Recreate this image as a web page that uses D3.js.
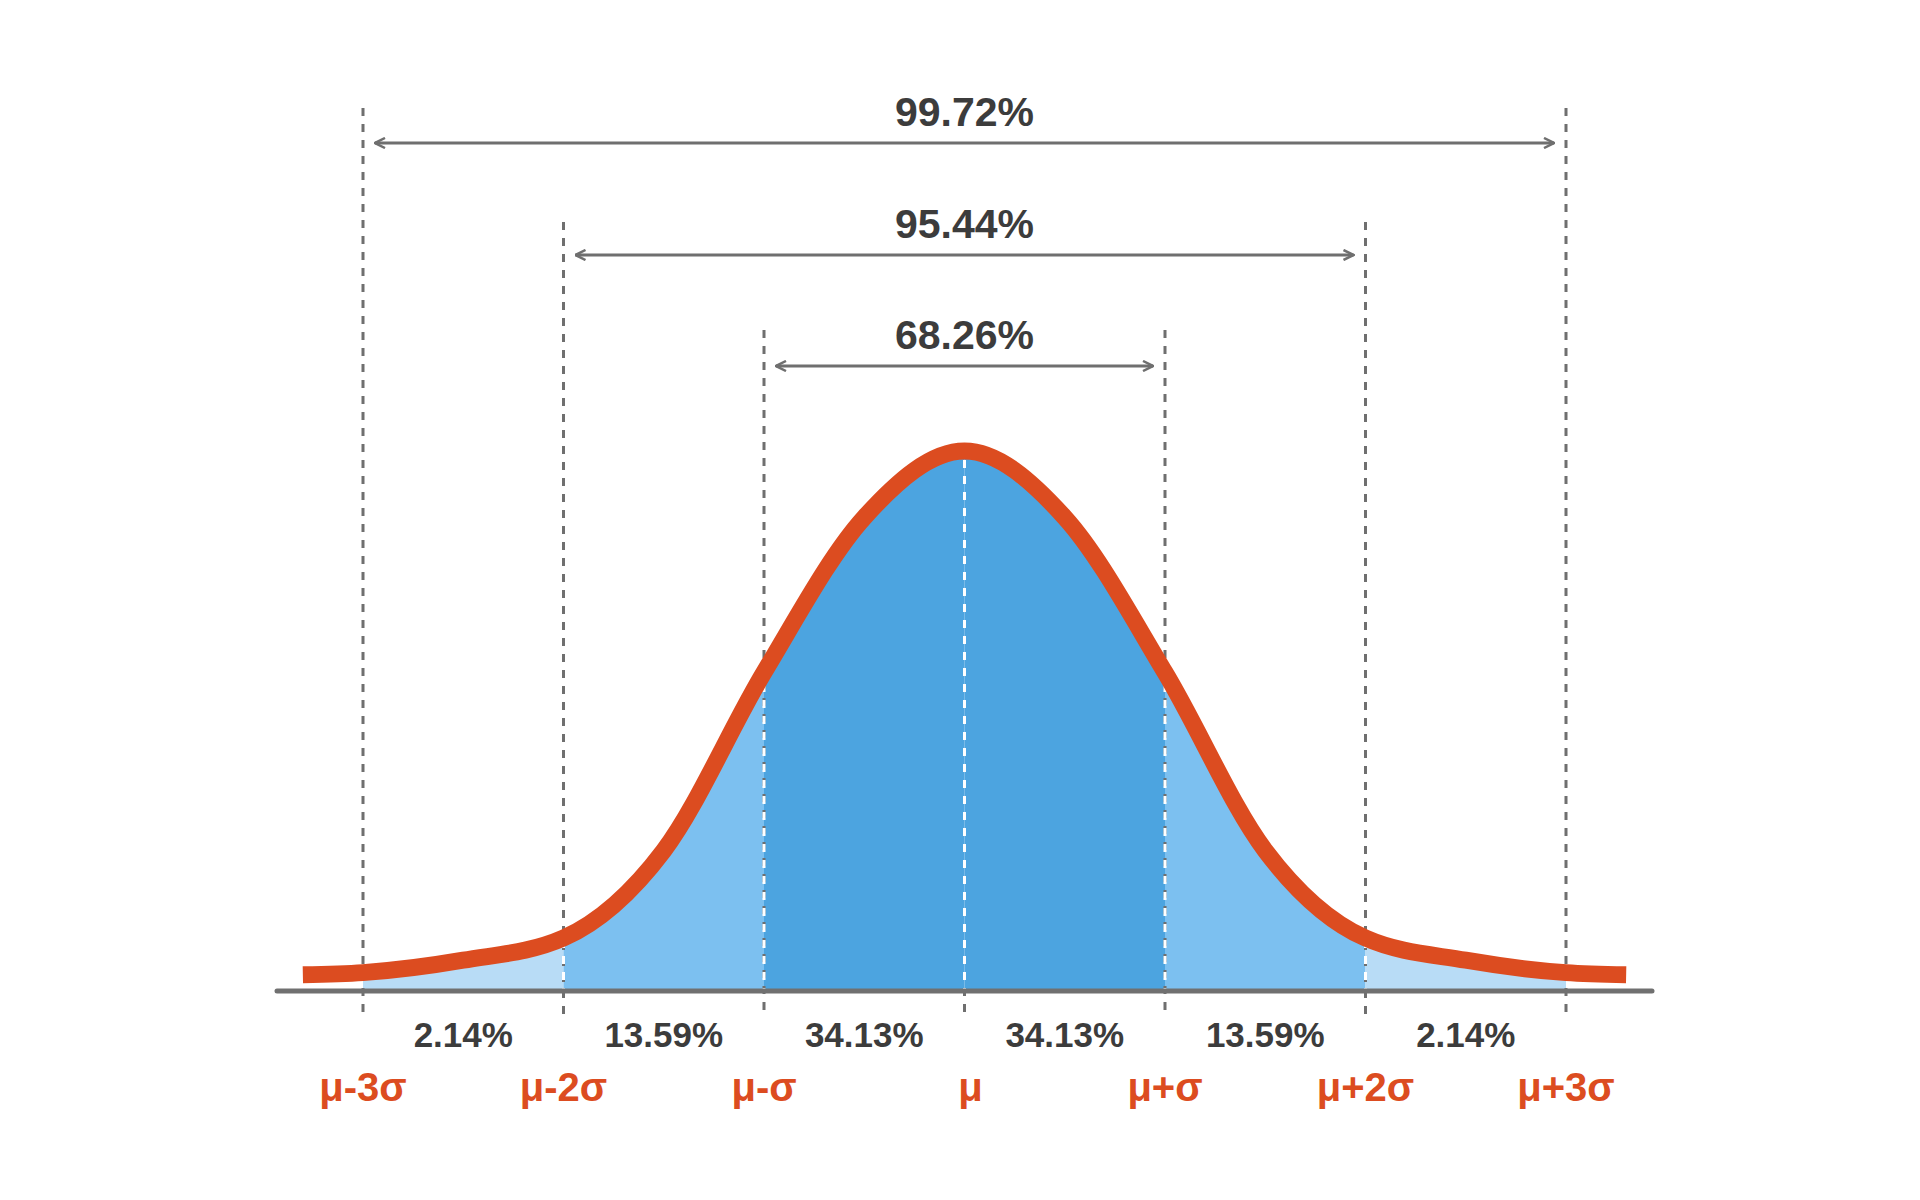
<!DOCTYPE html>
<html><head><meta charset="utf-8">
<script src="https://cdn.jsdelivr.net/npm/d3@7"></script>
<style>body{margin:0;background:#fff}svg{display:block}</style>
</head><body>
<svg id="c" width="1920" height="1200"></svg>
<script>
// curve readings: z (in sigma units) and relative height (peak = 1)
const curveZ = [-3.3, -3, -2.5, -2, -1.5, -1, -0.5, 0, 0.5, 1, 1.5, 2, 2.5, 3, 3.3];
const curveH = [0.03, 0.034, 0.057, 0.098, 0.26, 0.59, 0.877, 1, 0.877, 0.59, 0.26, 0.098, 0.057, 0.034, 0.03];
const tickZ = [-3, -2, -1, 0, 1, 2, 3];
const tickLabels = ["μ-3σ", "μ-2σ", "μ-σ", "μ", "μ+σ", "μ+2σ", "μ+3σ"];
const segLabels = ["2.14%", "13.59%", "34.13%", "34.13%", "13.59%", "2.14%"];
const segColors = ["#b8dcf6", "#7cc0f0", "#4ca4e0", "#4ca4e0", "#7cc0f0", "#b8dcf6"];
const spanZ = [3, 2, 1];
const spanLabels = ["99.72%", "95.44%", "68.26%"];

const svg = d3.select("#c");
const x = d3.scaleLinear().domain([-3, 3]).range([363, 1566]);
const y = d3.scaleLinear().domain([0, 1]).range([991, 451]);
const axisY = y(0);
const pts = curveZ.map((z, i) => [z, curveH[i]]);
const line = d3.line().x(d => x(d[0])).y(d => y(d[1])).curve(d3.curveMonotoneX);
const interp = z => { // evaluate monotone curve via path sampling
  return null;
};

// fills per segment, clipped
const defs = svg.append("defs");
defs.append("clipPath").attr("id", "under")
  .append("path").attr("d", d3.area().x(d => x(d[0])).y0(axisY).y1(d => y(d[1])).curve(d3.curveMonotoneX)(pts));
const gFill = svg.append("g").attr("clip-path", "url(#under)");
segColors.forEach((c, i) => {
  gFill.append("rect").attr("x", x(tickZ[i])).attr("y", 300)
    .attr("width", x(tickZ[i + 1]) - x(tickZ[i])).attr("height", axisY - 300).attr("fill", c);
});

// vertical dashed lines
const gray = "#6f6f6f";
const topY = {3: 108, 2: 222, 1: 330};
tickZ.forEach(z => {
  const t = z === 0 ? 460 : topY[Math.abs(z)];
  svg.append("line").attr("x1", x(z)).attr("x2", x(z)).attr("y1", t).attr("y2", 1014)
    .attr("stroke", gray).attr("stroke-width", 3).attr("stroke-dasharray", "8,8");
});
// white dashes inside the fill
const gW = svg.append("g").attr("clip-path", "url(#under)");
tickZ.forEach(z => {
  if (Math.abs(z) === 3) return;
  gW.append("line").attr("x1", x(z)).attr("x2", x(z)).attr("y1", 300).attr("y2", axisY)
    .attr("stroke", "#fff").attr("stroke-width", 3).attr("stroke-dasharray", "8,8");
});

// axis
svg.append("line").attr("x1", 277).attr("x2", 1652).attr("y1", axisY).attr("y2", axisY)
  .attr("stroke", "#707070").attr("stroke-width", 5).attr("stroke-linecap", "round");

// curve
svg.append("path").attr("d", line(pts)).attr("fill", "none")
  .attr("stroke", "#dc4c20").attr("stroke-width", 17);

// span arrows
defs.append("marker").attr("id", "ah").attr("viewBox", "0 0 12 12").attr("refX", 11).attr("refY", 6)
  .attr("markerWidth", 12).attr("markerHeight", 12).attr("markerUnits", "userSpaceOnUse").attr("orient", "auto-start-reverse")
  .append("path").attr("d", "M1,1 L11,6 L1,11").attr("fill", "none").attr("stroke", gray).attr("stroke-width", 2.5);
const spanY = [143, 255, 366];
spanZ.forEach((s, i) => {
  svg.append("line").attr("x1", x(-s) + 12).attr("x2", x(s) - 12).attr("y1", spanY[i]).attr("y2", spanY[i])
    .attr("stroke", gray).attr("stroke-width", 3)
    .attr("marker-start", "url(#ah)").attr("marker-end", "url(#ah)");
  svg.append("text").attr("x", x(0)).attr("y", spanY[i] - 17).attr("text-anchor", "middle")
    .attr("font-family", "Liberation Sans, Arial").attr("font-weight", "bold").attr("font-size", 41)
    .attr("fill", "#3c3c3c").text(spanLabels[i]);
});

// segment labels
segLabels.forEach((t, i) => {
  svg.append("text").attr("x", (x(tickZ[i]) + x(tickZ[i + 1])) / 2).attr("y", 1047).attr("text-anchor", "middle")
    .attr("font-family", "Liberation Sans, Arial").attr("font-weight", "bold").attr("font-size", 35)
    .attr("fill", "#3c3c3c").text(t);
});
// sigma labels
tickLabels.forEach((t, i) => {
  svg.append("text").attr("x", x(tickZ[i]) + (i === 3 ? 6 : 0)).attr("y", 1101).attr("text-anchor", "middle")
    .attr("font-family", "Liberation Sans, Arial").attr("font-weight", "bold").attr("font-size", 40)
    .attr("fill", "#dc4c20").text(t);
});
</script>
</body></html>
